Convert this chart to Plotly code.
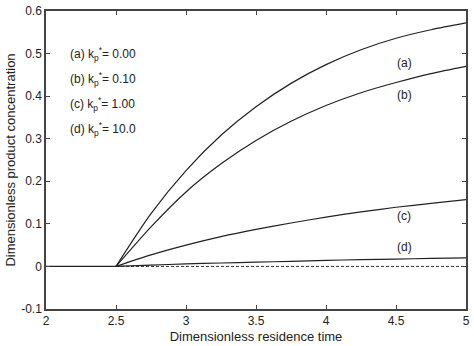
import plotly.graph_objects as go

t_flat = [2.0, 2.5]
flat = [0, 0]
t = [2.5, 2.75, 3.0, 3.25, 3.5, 3.75, 4.0, 4.25, 4.5, 4.75, 5.0]
curve_a = [0, 0.124, 0.225, 0.308, 0.375, 0.430, 0.474, 0.509, 0.536, 0.556, 0.572]
curve_b = [0, 0.093, 0.175, 0.241, 0.296, 0.341, 0.378, 0.408, 0.432, 0.453, 0.470]
curve_c = [0, 0.027, 0.050, 0.070, 0.087, 0.102, 0.116, 0.128, 0.139, 0.148, 0.157]
curve_d = [0, 0.003, 0.006, 0.008, 0.010, 0.012, 0.014, 0.016, 0.017, 0.019, 0.020]
legend_lines = ["(a) k<sub>p</sub><sup>*</sup>= 0.00", "(b) k<sub>p</sub><sup>*</sup>= 0.10",
                "(c) k<sub>p</sub><sup>*</sup>= 1.00", "(d) k<sub>p</sub><sup>*</sup>= 10.0"]
legend_y = [0.50, 0.44, 0.382, 0.322]
curve_labels = ["(a)", "(b)", "(c)", "(d)"]
label_x = [4.56, 4.56, 4.56, 4.56]
label_y = [0.478, 0.402, 0.118, 0.046]

fig = go.Figure()
fig.add_trace(go.Scatter(x=[2.5, 5], y=[0, 0], mode="lines",
                         line=dict(color="#333", width=1, dash="3px,2px"), showlegend=False))
fig.add_trace(go.Scatter(x=t_flat, y=flat, mode="lines", line=dict(color="#222", width=1.2),
                         showlegend=False))
for ys in [curve_a, curve_b, curve_c, curve_d]:
    fig.add_trace(go.Scatter(x=t, y=ys, mode="lines",
                             line=dict(color="#222", width=1.2, shape="spline", smoothing=0.8),
                             showlegend=False))

for txt, yy in zip(legend_lines, legend_y):
    fig.add_annotation(x=2.16, y=yy, text=txt, showarrow=False, xanchor="left", yanchor="middle",
                       font=dict(size=12, color="#222"))
for txt, xx, yy in zip(curve_labels, label_x, label_y):
    fig.add_annotation(x=xx, y=yy, text=txt, showarrow=False, xanchor="center", yanchor="middle",
                       font=dict(size=12, color="#222"))

axis_common = dict(showgrid=False, zeroline=False, showline=True, linecolor="#444", linewidth=1.5,
                   mirror="allticks", ticks="inside", ticklen=4, tickcolor="#444",
                   tickfont=dict(size=12, color="#222"))
fig.update_xaxes(range=[2, 5], tickvals=[2, 2.5, 3, 3.5, 4, 4.5, 5],
                 ticktext=["2", "2.5", "3", "3.5", "4", "4.5", "5"],
                 title=dict(text="Dimensionless residence time", font=dict(size=13, color="#222"), standoff=5),
                 **axis_common)
fig.update_yaxes(range=[-0.1, 0.6], tickvals=[-0.1, 0, 0.1, 0.2, 0.3, 0.4, 0.5, 0.6],
                 ticktext=["-0.1", "0", "0.1", "0.2", "0.3", "0.4", "0.5", "0.6"],
                 title=dict(text="Dimensionless product concentration", font=dict(size=13, color="#222"), standoff=3),
                 **axis_common)
fig.update_layout(width=474, height=346, margin=dict(l=46, r=4, t=7, b=36),
                  plot_bgcolor="white", paper_bgcolor="white",
                  font=dict(family="Liberation Sans, Arial, sans-serif"))
fig.write_html("out.html")
